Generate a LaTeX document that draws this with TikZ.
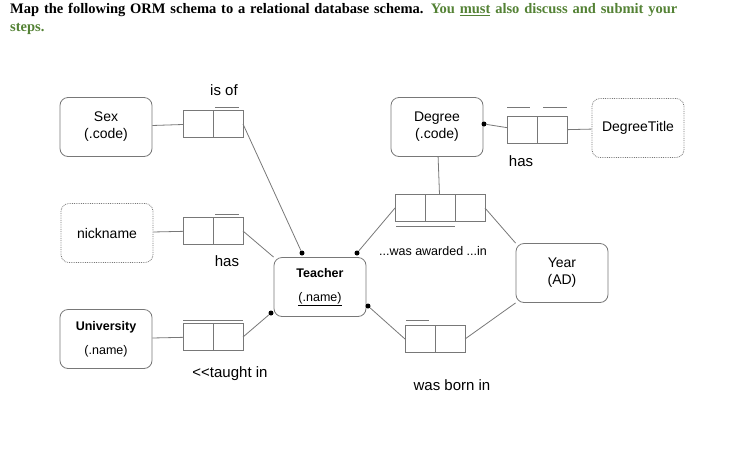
\documentclass[tikz,border=0pt]{standalone}
\usepackage{fontspec}
\setmainfont{Liberation Sans}
\newfontfamily\titlefont{Liberation Serif}
\usetikzlibrary{positioning}
\definecolor{edgegray}{RGB}{120,120,120}
\definecolor{taskgreen}{RGB}{84,130,53}

\begin{document}
\begin{tikzpicture}[x=1pt, y=-1pt,
    entity/.style={draw=edgegray, thick, rounded corners=8pt, minimum width=92pt,
                   minimum height=59pt, align=center, font=\fontsize{14}{17}\selectfont},
    value/.style={entity, densely dotted},
    cell/.style={draw=edgegray, thick, minimum width=30pt, minimum height=27pt,
                 inner sep=0pt, outer sep=0pt},
    label/.style={font=\fontsize{15}{17}\selectfont},
    link/.style={edgegray, thick},
    dot/.style={circle, fill=black, inner sep=0pt, minimum size=5pt}]
    \useasboundingbox (0,0) rectangle (729,467);
    % task text
    \node[anchor=north west, text width=705pt, align=left, inner sep=0pt,
          font=\titlefont\bfseries\fontsize{14.5}{18}\selectfont] (task) at (10,3)
      {Map the following ORM schema to a relational database schema. \textcolor{taskgreen}{You \underline{must} also discuss and submit your steps.}};

    % object types
    \node[entity] (sex) at (106,127) {Sex\\(.code)};
    \node[value] (nick) at (107,233) {nickname};
    \node[entity, font=\fontsize{12.5}{24}\selectfont] (univ) at (106,339) {\textbf{University}\\(.name)};
    \node[entity, font=\fontsize{12.5}{24}\selectfont] (teacher) at (320,287) {\textbf{Teacher}\\\underline{(.name)}};
    \node[entity] (degree) at (437,127) {Degree\\(.code)};
    \node[value] (dtitle) at (638,128) {DegreeTitle};
    \node[entity] (year) at (562,273) {Year\\(AD)};

    % fact types
    \node[cell] (isof1) at (198,124) {};
    \node[cell, right=0pt of isof1] (isof2) {};
    \node[cell] (nick1) at (198,231) {};
    \node[cell, right=0pt of nick1] (nick2) {};
    \node[cell] (taught1) at (198,337) {};
    \node[cell, right=0pt of taught1] (taught2) {};
    \node[cell] (dhas1) at (522,130) {};
    \node[cell, right=0pt of dhas1] (dhas2) {};
    \node[cell] (award1) at (410,208) {};
    \node[cell, right=0pt of award1] (award2) {};
    \node[cell, right=0pt of award2] (award3) {};
    \node[cell] (born1) at (420,339) {};
    \node[cell, right=0pt of born1] (born2) {};

    % uniqueness bars
    \draw[link] ([xshift=2pt, yshift=3pt]isof2.north west) -- ([xshift=-4pt, yshift=3pt]isof2.north east);
    \draw[link] ([xshift=2pt, yshift=3pt]nick2.north west) -- ([xshift=-4pt, yshift=3pt]nick2.north east);
    \draw[link] ([yshift=3pt]taught1.north west) -- ([yshift=3pt]taught2.north east);
    \draw[link] ([yshift=9pt]dhas1.north west) -- ([xshift=-7pt, yshift=9pt]dhas1.north east);
    \draw[link] ([xshift=6pt, yshift=9pt]dhas2.north west) -- ([yshift=9pt]dhas2.north east);
    \draw[link] ([xshift=1pt, yshift=-5pt]award1.south west) -- ([yshift=-5pt]award2.south east);
    \draw[link] ([xshift=1pt, yshift=5pt]born1.north west) -- ([xshift=-6pt, yshift=5pt]born1.north east);

    % fact type readings
    \node[label] (isofl) at (224,90) {is of};
    \node[label] (nickl) at (227,261) {has};
    \node[label] (taughtl) at (230,374) {{<}{<}taught in};
    \node[label] (dhasl) at (521,161) {has};
    \node[label, font=\fontsize{12.5}{14}\selectfont] (awardl) at (433,251) {...was awarded ...in};
    \node[label] (bornl) at (452,385) {was born in};

    % mandatory role dots
    \node[dot] (d1) at (302,253) {};
    \node[dot] (d2) at (357,253) {};
    \node[dot] (d3) at (271,313) {};
    \node[dot] (d4) at (368,306) {};
    \node[dot] (d5) at (484,124) {};

    % connectors
    \draw[link] (sex) -- (isof1);
    \draw[link] (isof2.east) -- (d1);
    \draw[link] (nick) -- (nick1);
    \draw[link] (nick2.east) -- (teacher.north west);
    \draw[link] (univ) -- (taught1);
    \draw[link] (taught2.east) -- (d3);
    \draw[link] (award1.west) -- (d2);
    \draw[link] (degree) -- (award2);
    \draw[link] (award3.east) -- (year.north west);
    \draw[link] (d4) -- (born1.west);
    \draw[link] (born2.east) -- (year.south west);
    \draw[link] (d5) -- (dhas1);
    \draw[link] (dhas2) -- (dtitle);
\end{tikzpicture}
\end{document}
